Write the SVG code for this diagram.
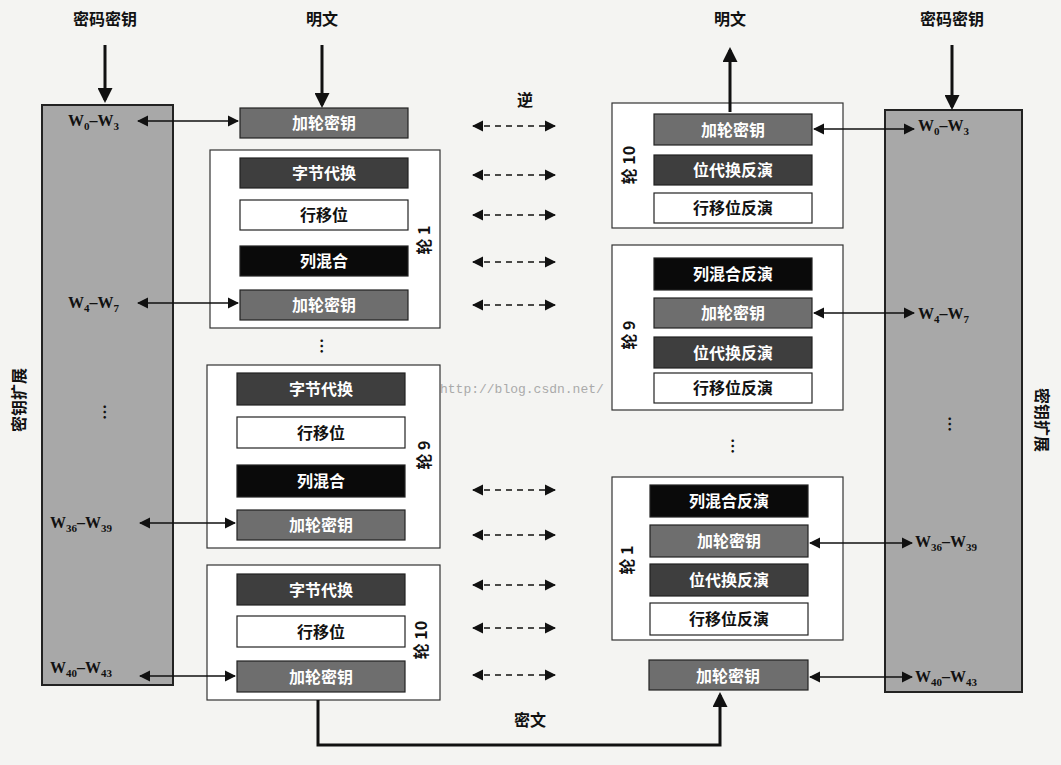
<svg xmlns="http://www.w3.org/2000/svg" width="1061" height="765" viewBox="0 0 1061 765">
<style>
text{font-family:"Liberation Serif","Noto Sans CJK SC",serif;font-size:17px;fill:#111}
.t{font-weight:bold;font-size:16px;font-family:"Noto Sans CJK SC",sans-serif}
.w{font-size:16px;font-weight:bold}
.k{fill:#6e6e6e;stroke:#222;stroke-width:1.2}
.s{fill:#3e3e3e;stroke:#222;stroke-width:1.2}
.b{fill:#fff;stroke:#222;stroke-width:1.2}
.m{fill:#0a0a0a;stroke:#222;stroke-width:1.2}
.f{fill:#fff;stroke:#333;stroke-width:1.2}
.bar{fill:#a8a8a8;stroke:#222;stroke-width:2}
.lt{fill:#fff}
.c line,.c path{stroke:#111;stroke-width:1.6;fill:none}
.d{stroke-dasharray:6 5}
.th line,.th path{stroke:#111;stroke-width:3;fill:none}
</style>
<defs>
<marker id="a" viewBox="0 0 10 10" refX="9" refY="5" markerWidth="7" markerHeight="7" orient="auto-start-reverse"><path d="M0,0L10,5L0,10z" fill="#111"/></marker>
<marker id="A" viewBox="0 0 10 10" refX="8" refY="5" markerWidth="5" markerHeight="5" orient="auto-start-reverse"><path d="M0,0L10,5L0,10z" fill="#111"/></marker>
</defs>
<rect width="1061" height="765" fill="#f4f4f2"/>
<text x="440" y="393" style="font-size:13px;fill:#aaa;font-family:'Liberation Mono',monospace">http://blog.csdn.net/</text>

<g id="leftbar"><rect class="bar" x="42" y="105" width="131" height="580"/>
<text x="20" y="405" class="t" transform="rotate(-90 20 400)" text-anchor="middle">密钥扩展</text>
<text x="105" y="418" class="t" text-anchor="middle" transform="rotate(90 105 412)">…</text></g>
<g id="rightbar"><rect class="bar" x="885" y="110" width="137" height="582"/>
<text x="1041" y="425" class="t" transform="rotate(90 1041 420)" text-anchor="middle">密钥扩展</text>
<text x="950" y="430" class="t" text-anchor="middle" transform="rotate(90 950 424)">…</text></g>

<g id="labels">
<text x="105" y="25" class="t" text-anchor="middle">密码密钥</text>
<text x="322" y="25" class="t" text-anchor="middle">明文</text>
<text x="730" y="25" class="t" text-anchor="middle">明文</text>
<text x="952" y="25" class="t" text-anchor="middle">密码密钥</text>
<text x="525" y="106" class="t" text-anchor="middle">逆</text>
<text x="530" y="726" class="t" text-anchor="middle">密文</text>
<text x="322" y="352" class="t" text-anchor="middle" transform="rotate(90 322 346)">…</text>
<text x="733" y="452" class="t" text-anchor="middle" transform="rotate(90 733 446)">…</text>
</g>
<g id="wl" class="w">
<text x="68" y="126" class="w">W<tspan font-size="11" dy="4">0</tspan><tspan dy="-4">–W</tspan><tspan font-size="11" dy="4">3</tspan></text>
<text x="68" y="308" class="w">W<tspan font-size="11" dy="4">4</tspan><tspan dy="-4">–W</tspan><tspan font-size="11" dy="4">7</tspan></text>
<text x="50" y="528" class="w">W<tspan font-size="11" dy="4">36</tspan><tspan dy="-4">–W</tspan><tspan font-size="11" dy="4">39</tspan></text>
<text x="50" y="673" class="w">W<tspan font-size="11" dy="4">40</tspan><tspan dy="-4">–W</tspan><tspan font-size="11" dy="4">43</tspan></text>
<text x="918" y="131" class="w">W<tspan font-size="11" dy="4">0</tspan><tspan dy="-4">–W</tspan><tspan font-size="11" dy="4">3</tspan></text>
<text x="918" y="319" class="w">W<tspan font-size="11" dy="4">4</tspan><tspan dy="-4">–W</tspan><tspan font-size="11" dy="4">7</tspan></text>
<text x="915" y="547" class="w">W<tspan font-size="11" dy="4">36</tspan><tspan dy="-4">–W</tspan><tspan font-size="11" dy="4">39</tspan></text>
<text x="915" y="682" class="w">W<tspan font-size="11" dy="4">40</tspan><tspan dy="-4">–W</tspan><tspan font-size="11" dy="4">43</tspan></text>
</g>

<g id="enc-init"><rect class="k" x="240" y="108" width="168" height="30"/><text x="324" y="129" class="t lt" text-anchor="middle">加轮密钥</text></g>
<g id="enc-r1"><rect class="f" x="210" y="150" width="230" height="178"/>
<rect class="s" x="240" y="158" width="168" height="30"/><text x="324" y="179" class="t lt" text-anchor="middle">字节代换</text>
<rect class="b" x="240" y="200" width="168" height="30"/><text x="324" y="221" class="t" text-anchor="middle">行移位</text>
<rect class="m" x="240" y="246" width="168" height="30"/><text x="324" y="267" class="t lt" text-anchor="middle">列混合</text>
<rect class="k" x="240" y="290" width="168" height="30"/><text x="324" y="311" class="t lt" text-anchor="middle">加轮密钥</text>
<text x="425" y="245" class="t" text-anchor="middle" transform="rotate(-90 425 240)">轮 1</text></g>
<g id="enc-r9"><rect class="f" x="207" y="365" width="233" height="183"/>
<rect class="s" x="237" y="373" width="168" height="32"/><text x="321" y="395" class="t lt" text-anchor="middle">字节代换</text>
<rect class="b" x="237" y="417" width="168" height="31"/><text x="321" y="439" class="t" text-anchor="middle">行移位</text>
<rect class="m" x="237" y="465" width="168" height="32"/><text x="321" y="487" class="t lt" text-anchor="middle">列混合</text>
<rect class="k" x="237" y="510" width="168" height="30"/><text x="321" y="531" class="t lt" text-anchor="middle">加轮密钥</text>
<text x="425" y="460" class="t" text-anchor="middle" transform="rotate(-90 425 455)">轮 9</text></g>
<g id="enc-r10"><rect class="f" x="207" y="565" width="233" height="135"/>
<rect class="s" x="237" y="574" width="168" height="31"/><text x="321" y="596" class="t lt" text-anchor="middle">字节代换</text>
<rect class="b" x="237" y="616" width="168" height="31"/><text x="321" y="638" class="t" text-anchor="middle">行移位</text>
<rect class="k" x="237" y="661" width="168" height="31"/><text x="321" y="683" class="t lt" text-anchor="middle">加轮密钥</text>
<text x="422" y="645" class="t" text-anchor="middle" transform="rotate(-90 422 640)">轮 10</text></g>

<g id="dec-r10"><rect class="f" x="612" y="103" width="231" height="125"/>
<rect class="k" x="654" y="114" width="158" height="31"/><text x="733" y="136" class="t lt" text-anchor="middle">加轮密钥</text>
<rect class="s" x="654" y="155" width="158" height="30"/><text x="733" y="176" class="t lt" text-anchor="middle">位代换反演</text>
<rect class="b" x="654" y="193" width="158" height="30"/><text x="733" y="214" class="t" text-anchor="middle">行移位反演</text>
<text x="630" y="170" class="t" text-anchor="middle" transform="rotate(-90 630 165)">轮 10</text></g>
<g id="dec-r9"><rect class="f" x="612" y="245" width="231" height="165"/>
<rect class="m" x="654" y="258" width="158" height="32"/><text x="733" y="280" class="t lt" text-anchor="middle">列混合反演</text>
<rect class="k" x="654" y="298" width="158" height="30"/><text x="733" y="319" class="t lt" text-anchor="middle">加轮密钥</text>
<rect class="s" x="654" y="337" width="158" height="31"/><text x="733" y="359" class="t lt" text-anchor="middle">位代换反演</text>
<rect class="b" x="654" y="373" width="158" height="30"/><text x="733" y="394" class="t" text-anchor="middle">行移位反演</text>
<text x="630" y="340" class="t" text-anchor="middle" transform="rotate(-90 630 335)">轮 9</text></g>
<g id="dec-r1"><rect class="f" x="612" y="477" width="231" height="163"/>
<rect class="m" x="650" y="485" width="158" height="32"/><text x="729" y="507" class="t lt" text-anchor="middle">列混合反演</text>
<rect class="k" x="650" y="525" width="158" height="32"/><text x="729" y="547" class="t lt" text-anchor="middle">加轮密钥</text>
<rect class="s" x="650" y="564" width="158" height="32"/><text x="729" y="586" class="t lt" text-anchor="middle">位代换反演</text>
<rect class="b" x="650" y="603" width="158" height="32"/><text x="729" y="625" class="t" text-anchor="middle">行移位反演</text>
<text x="628" y="565" class="t" text-anchor="middle" transform="rotate(-90 628 560)">轮 1</text></g>
<g id="dec-init"><rect class="k" x="649" y="660" width="159" height="30"/><text x="728" y="682" class="t lt" text-anchor="middle">加轮密钥</text></g>

<g id="connectors">
<g class="th">
<line x1="105" y1="45" x2="105" y2="100" marker-end="url(#A)"/>
<line x1="322" y1="45" x2="322" y2="105" marker-end="url(#A)"/>
<line x1="952" y1="45" x2="952" y2="107" marker-end="url(#A)"/>
<line x1="730" y1="112" x2="730" y2="50" marker-end="url(#A)"/>
<path d="M318,700V745H720V695" marker-end="url(#A)"/>
</g>
<g class="c">
<line x1="138" y1="121" x2="238" y2="121" marker-start="url(#a)" marker-end="url(#a)"/>
<line x1="138" y1="303" x2="238" y2="303" marker-start="url(#a)" marker-end="url(#a)"/>
<line x1="140" y1="523" x2="235" y2="523" marker-start="url(#a)" marker-end="url(#a)"/>
<line x1="140" y1="676" x2="235" y2="676" marker-start="url(#a)" marker-end="url(#a)"/>
<line x1="814" y1="129" x2="914" y2="129" marker-start="url(#a)" marker-end="url(#a)"/>
<line x1="814" y1="313" x2="914" y2="313" marker-start="url(#a)" marker-end="url(#a)"/>
<line x1="810" y1="543" x2="912" y2="543" marker-start="url(#a)" marker-end="url(#a)"/>
<line x1="810" y1="677" x2="912" y2="677" marker-start="url(#a)" marker-end="url(#a)"/>
<g class="d">
<line class="d" x1="473" y1="126" x2="555" y2="126" marker-start="url(#a)" marker-end="url(#a)"/>
<line class="d" x1="473" y1="175" x2="555" y2="175" marker-start="url(#a)" marker-end="url(#a)"/>
<line class="d" x1="473" y1="215" x2="555" y2="215" marker-start="url(#a)" marker-end="url(#a)"/>
<line class="d" x1="473" y1="262" x2="555" y2="262" marker-start="url(#a)" marker-end="url(#a)"/>
<line class="d" x1="473" y1="305" x2="555" y2="305" marker-start="url(#a)" marker-end="url(#a)"/>
<line class="d" x1="473" y1="490" x2="555" y2="490" marker-start="url(#a)" marker-end="url(#a)"/>
<line class="d" x1="473" y1="535" x2="555" y2="535" marker-start="url(#a)" marker-end="url(#a)"/>
<line class="d" x1="473" y1="585" x2="555" y2="585" marker-start="url(#a)" marker-end="url(#a)"/>
<line class="d" x1="473" y1="628" x2="555" y2="628" marker-start="url(#a)" marker-end="url(#a)"/>
<line class="d" x1="473" y1="675" x2="555" y2="675" marker-start="url(#a)" marker-end="url(#a)"/>
</g></g>
</g>
</svg>
